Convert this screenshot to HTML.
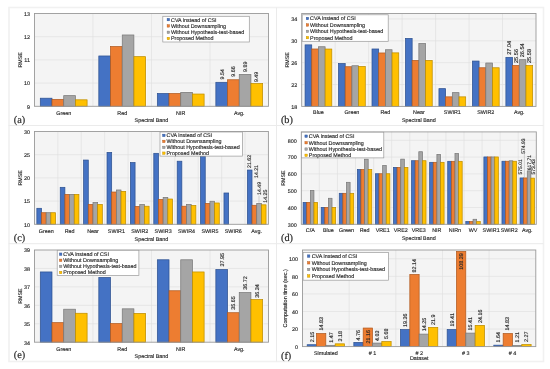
<!DOCTYPE html>
<html><head><meta charset="utf-8"><title>Figure</title>
<style>
html,body{margin:0;padding:0;background:#fff;width:550px;height:369px;overflow:hidden;}
body{position:relative;font-family:"Liberation Sans",sans-serif;}
svg{text-rendering:geometricPrecision;filter:blur(0.3px);}
svg text{font-family:"Liberation Sans",sans-serif;stroke:#262626;stroke-width:0.14px;}
svg text.tag{font-family:"Liberation Serif",serif;stroke:#2a2a2a;stroke-width:0.2px;}
</style></head><body>
<svg width="550" height="369" viewBox="0 0 550 369" style="position:absolute;left:0;top:0">
<rect x="9" y="7.5" width="534.5" height="354" fill="none" stroke="#f1f1f1" stroke-width="1.6"/>
<line x1="276.5" y1="7.5" x2="276.5" y2="361.5" stroke="#ebebeb" stroke-width="1"/>
<line x1="8.5" y1="125.5" x2="543.5" y2="125.5" stroke="#ebebeb" stroke-width="1"/>
<line x1="8.5" y1="243.7" x2="543.5" y2="243.7" stroke="#ebebeb" stroke-width="1"/>
<rect x="34.45" y="13.50" width="234.05" height="92.80" fill="#f4f4f4"/>
<line x1="34.45" y1="83.10" x2="268.50" y2="83.10" stroke="#dedede" stroke-width="0.6"/>
<line x1="34.45" y1="59.90" x2="268.50" y2="59.90" stroke="#dedede" stroke-width="0.6"/>
<line x1="34.45" y1="36.70" x2="268.50" y2="36.70" stroke="#dedede" stroke-width="0.6"/>
<line x1="92.96" y1="13.50" x2="92.96" y2="106.30" stroke="#dedede" stroke-width="0.6"/>
<line x1="151.48" y1="13.50" x2="151.48" y2="106.30" stroke="#dedede" stroke-width="0.6"/>
<line x1="209.99" y1="13.50" x2="209.99" y2="106.30" stroke="#dedede" stroke-width="0.6"/>
<rect x="39.40" y="97.28" width="13.50" height="9.02" fill="#ffffff" opacity="0.75"/>
<rect x="51.10" y="98.44" width="13.50" height="7.86" fill="#ffffff" opacity="0.75"/>
<rect x="62.81" y="94.73" width="13.50" height="11.57" fill="#ffffff" opacity="0.75"/>
<rect x="74.51" y="98.90" width="13.50" height="7.40" fill="#ffffff" opacity="0.75"/>
<rect x="97.91" y="55.06" width="13.50" height="51.24" fill="#ffffff" opacity="0.75"/>
<rect x="109.62" y="45.66" width="13.50" height="60.64" fill="#ffffff" opacity="0.75"/>
<rect x="121.32" y="34.06" width="13.50" height="72.24" fill="#ffffff" opacity="0.75"/>
<rect x="133.02" y="55.75" width="13.50" height="50.55" fill="#ffffff" opacity="0.75"/>
<rect x="156.43" y="92.64" width="13.50" height="13.66" fill="#ffffff" opacity="0.75"/>
<rect x="168.13" y="92.64" width="13.50" height="13.66" fill="#ffffff" opacity="0.75"/>
<rect x="179.83" y="91.48" width="13.50" height="14.82" fill="#ffffff" opacity="0.75"/>
<rect x="191.53" y="93.10" width="13.50" height="13.20" fill="#ffffff" opacity="0.75"/>
<rect x="214.94" y="81.39" width="13.50" height="24.91" fill="#ffffff" opacity="0.75"/>
<rect x="226.64" y="78.84" width="13.50" height="27.46" fill="#ffffff" opacity="0.75"/>
<rect x="238.34" y="73.50" width="13.50" height="32.80" fill="#ffffff" opacity="0.75"/>
<rect x="250.05" y="82.55" width="13.50" height="23.75" fill="#ffffff" opacity="0.75"/>
<rect x="40.30" y="98.18" width="11.70" height="8.12" fill="#4472C4" stroke="#2F528F" stroke-width="0.75"/>
<rect x="52.00" y="99.34" width="11.70" height="6.96" fill="#ED7D31" stroke="#AE5A21" stroke-width="0.75"/>
<rect x="63.71" y="95.63" width="11.70" height="10.67" fill="#A5A5A5" stroke="#787878" stroke-width="0.75"/>
<rect x="75.41" y="99.80" width="11.70" height="6.50" fill="#FFC000" stroke="#BC8C00" stroke-width="0.75"/>
<rect x="98.81" y="55.96" width="11.70" height="50.34" fill="#4472C4" stroke="#2F528F" stroke-width="0.75"/>
<rect x="110.52" y="46.56" width="11.70" height="59.74" fill="#ED7D31" stroke="#AE5A21" stroke-width="0.75"/>
<rect x="122.22" y="34.96" width="11.70" height="71.34" fill="#A5A5A5" stroke="#787878" stroke-width="0.75"/>
<rect x="133.92" y="56.65" width="11.70" height="49.65" fill="#FFC000" stroke="#BC8C00" stroke-width="0.75"/>
<rect x="157.33" y="93.54" width="11.70" height="12.76" fill="#4472C4" stroke="#2F528F" stroke-width="0.75"/>
<rect x="169.03" y="93.54" width="11.70" height="12.76" fill="#ED7D31" stroke="#AE5A21" stroke-width="0.75"/>
<rect x="180.73" y="92.38" width="11.70" height="13.92" fill="#A5A5A5" stroke="#787878" stroke-width="0.75"/>
<rect x="192.43" y="94.00" width="11.70" height="12.30" fill="#FFC000" stroke="#BC8C00" stroke-width="0.75"/>
<rect x="215.84" y="82.29" width="11.70" height="24.01" fill="#4472C4" stroke="#2F528F" stroke-width="0.75"/>
<rect x="227.54" y="79.74" width="11.70" height="26.56" fill="#ED7D31" stroke="#AE5A21" stroke-width="0.75"/>
<rect x="239.24" y="74.40" width="11.70" height="31.90" fill="#A5A5A5" stroke="#787878" stroke-width="0.75"/>
<rect x="250.95" y="83.45" width="11.70" height="22.85" fill="#FFC000" stroke="#BC8C00" stroke-width="0.75"/>
<rect x="34.45" y="13.50" width="234.05" height="92.80" fill="none" stroke="#9a9a9a" stroke-width="0.9"/>
<text x="29.95" y="108.60" font-size="5.38" text-anchor="end" fill="#262626">9</text>
<text x="29.95" y="85.40" font-size="5.38" text-anchor="end" fill="#262626">10</text>
<text x="29.95" y="62.20" font-size="5.38" text-anchor="end" fill="#262626">11</text>
<text x="29.95" y="39.00" font-size="5.38" text-anchor="end" fill="#262626">12</text>
<text x="29.95" y="15.80" font-size="5.38" text-anchor="end" fill="#262626">13</text>
<text x="63.71" y="114.50" font-size="5.38" text-anchor="middle" fill="#262626">Green</text>
<text x="122.22" y="114.50" font-size="5.38" text-anchor="middle" fill="#262626">Red</text>
<text x="180.73" y="114.50" font-size="5.38" text-anchor="middle" fill="#262626">NIR</text>
<text x="239.24" y="114.50" font-size="5.38" text-anchor="middle" fill="#262626">Avg.</text>
<text x="151.47" y="121.60" font-size="5.38" text-anchor="middle" fill="#262626">Spectral Band</text>
<text transform="translate(21.80,59.90) rotate(-90)" font-size="5.30" text-anchor="middle" fill="#262626">RMSE</text>
<text transform="translate(223.51,79.40) rotate(-90)" font-size="5.3" fill="#262626">9.54</text>
<text transform="translate(235.01,76.70) rotate(-90)" font-size="5.3" fill="#262626">9.66</text>
<text transform="translate(246.61,71.90) rotate(-90)" font-size="5.3" fill="#262626">9.89</text>
<text transform="translate(258.41,82.10) rotate(-90)" font-size="5.3" fill="#262626">9.49</text>
<rect x="162.80" y="16.30" width="86.50" height="25.70" fill="#ffffff" stroke="#9a9a9a" stroke-width="0.7"/>
<rect x="167.10" y="18.35" width="2.5" height="2.5" fill="#4472C4" stroke="#2F528F" stroke-width="0.4"/>
<text x="171.00" y="21.50" font-size="5.38" fill="#262626">CVA instead of CSI</text>
<rect x="167.10" y="24.65" width="2.5" height="2.5" fill="#ED7D31" stroke="#AE5A21" stroke-width="0.4"/>
<text x="171.00" y="27.80" font-size="5.38" fill="#262626">Without Downsampling</text>
<rect x="167.10" y="31.05" width="2.5" height="2.5" fill="#A5A5A5" stroke="#787878" stroke-width="0.4"/>
<text x="171.00" y="34.20" font-size="5.38" fill="#262626">Without Hypothesis-test-based</text>
<rect x="167.10" y="37.25" width="2.5" height="2.5" fill="#FFC000" stroke="#BC8C00" stroke-width="0.4"/>
<text x="171.00" y="40.40" font-size="5.38" fill="#262626">Proposed Method</text>
<text x="13.80" y="122.90" class="tag" font-size="10.3" fill="#2a2a2a">(a)</text>
<rect x="301.70" y="13.50" width="234.30" height="92.90" fill="#f4f4f4"/>
<line x1="301.70" y1="84.54" x2="536.00" y2="84.54" stroke="#dedede" stroke-width="0.6"/>
<line x1="301.70" y1="62.68" x2="536.00" y2="62.68" stroke="#dedede" stroke-width="0.6"/>
<line x1="301.70" y1="40.82" x2="536.00" y2="40.82" stroke="#dedede" stroke-width="0.6"/>
<line x1="301.70" y1="18.96" x2="536.00" y2="18.96" stroke="#dedede" stroke-width="0.6"/>
<line x1="335.17" y1="13.50" x2="335.17" y2="106.40" stroke="#dedede" stroke-width="0.6"/>
<line x1="368.64" y1="13.50" x2="368.64" y2="106.40" stroke="#dedede" stroke-width="0.6"/>
<line x1="402.11" y1="13.50" x2="402.11" y2="106.40" stroke="#dedede" stroke-width="0.6"/>
<line x1="435.59" y1="13.50" x2="435.59" y2="106.40" stroke="#dedede" stroke-width="0.6"/>
<line x1="469.06" y1="13.50" x2="469.06" y2="106.40" stroke="#dedede" stroke-width="0.6"/>
<line x1="502.53" y1="13.50" x2="502.53" y2="106.40" stroke="#dedede" stroke-width="0.6"/>
<rect x="304.15" y="43.97" width="8.49" height="62.43" fill="#ffffff" opacity="0.75"/>
<rect x="310.84" y="48.07" width="8.49" height="58.33" fill="#ffffff" opacity="0.75"/>
<rect x="317.54" y="45.83" width="8.49" height="60.57" fill="#ffffff" opacity="0.75"/>
<rect x="324.23" y="48.12" width="8.49" height="58.28" fill="#ffffff" opacity="0.75"/>
<rect x="337.62" y="62.66" width="8.49" height="43.74" fill="#ffffff" opacity="0.75"/>
<rect x="344.31" y="65.83" width="8.49" height="40.57" fill="#ffffff" opacity="0.75"/>
<rect x="351.01" y="64.84" width="8.49" height="41.56" fill="#ffffff" opacity="0.75"/>
<rect x="357.70" y="65.55" width="8.49" height="40.85" fill="#ffffff" opacity="0.75"/>
<rect x="371.09" y="48.07" width="8.49" height="58.33" fill="#ffffff" opacity="0.75"/>
<rect x="377.78" y="52.06" width="8.49" height="54.34" fill="#ffffff" opacity="0.75"/>
<rect x="384.48" y="48.83" width="8.49" height="57.57" fill="#ffffff" opacity="0.75"/>
<rect x="391.17" y="51.95" width="8.49" height="54.45" fill="#ffffff" opacity="0.75"/>
<rect x="404.56" y="37.52" width="8.49" height="68.88" fill="#ffffff" opacity="0.75"/>
<rect x="411.26" y="59.54" width="8.49" height="46.86" fill="#ffffff" opacity="0.75"/>
<rect x="417.95" y="42.66" width="8.49" height="63.74" fill="#ffffff" opacity="0.75"/>
<rect x="424.64" y="59.54" width="8.49" height="46.86" fill="#ffffff" opacity="0.75"/>
<rect x="438.03" y="87.74" width="8.49" height="18.66" fill="#ffffff" opacity="0.75"/>
<rect x="444.73" y="95.94" width="8.49" height="10.46" fill="#ffffff" opacity="0.75"/>
<rect x="451.42" y="91.73" width="8.49" height="14.67" fill="#ffffff" opacity="0.75"/>
<rect x="458.12" y="95.94" width="8.49" height="10.46" fill="#ffffff" opacity="0.75"/>
<rect x="471.50" y="60.14" width="8.49" height="46.26" fill="#ffffff" opacity="0.75"/>
<rect x="478.20" y="66.86" width="8.49" height="39.54" fill="#ffffff" opacity="0.75"/>
<rect x="484.89" y="62.06" width="8.49" height="44.34" fill="#ffffff" opacity="0.75"/>
<rect x="491.59" y="66.86" width="8.49" height="39.54" fill="#ffffff" opacity="0.75"/>
<rect x="504.98" y="56.43" width="8.49" height="49.97" fill="#ffffff" opacity="0.75"/>
<rect x="511.67" y="64.62" width="8.49" height="41.78" fill="#ffffff" opacity="0.75"/>
<rect x="518.36" y="58.78" width="8.49" height="47.62" fill="#ffffff" opacity="0.75"/>
<rect x="525.06" y="64.68" width="8.49" height="41.72" fill="#ffffff" opacity="0.75"/>
<rect x="305.05" y="44.87" width="6.69" height="61.53" fill="#4472C4" stroke="#2F528F" stroke-width="0.75"/>
<rect x="311.74" y="48.97" width="6.69" height="57.43" fill="#ED7D31" stroke="#AE5A21" stroke-width="0.75"/>
<rect x="318.44" y="46.73" width="6.69" height="59.67" fill="#A5A5A5" stroke="#787878" stroke-width="0.75"/>
<rect x="325.13" y="49.02" width="6.69" height="57.38" fill="#FFC000" stroke="#BC8C00" stroke-width="0.75"/>
<rect x="338.52" y="63.56" width="6.69" height="42.84" fill="#4472C4" stroke="#2F528F" stroke-width="0.75"/>
<rect x="345.21" y="66.73" width="6.69" height="39.67" fill="#ED7D31" stroke="#AE5A21" stroke-width="0.75"/>
<rect x="351.91" y="65.74" width="6.69" height="40.66" fill="#A5A5A5" stroke="#787878" stroke-width="0.75"/>
<rect x="358.60" y="66.45" width="6.69" height="39.95" fill="#FFC000" stroke="#BC8C00" stroke-width="0.75"/>
<rect x="371.99" y="48.97" width="6.69" height="57.43" fill="#4472C4" stroke="#2F528F" stroke-width="0.75"/>
<rect x="378.68" y="52.96" width="6.69" height="53.44" fill="#ED7D31" stroke="#AE5A21" stroke-width="0.75"/>
<rect x="385.38" y="49.73" width="6.69" height="56.67" fill="#A5A5A5" stroke="#787878" stroke-width="0.75"/>
<rect x="392.07" y="52.85" width="6.69" height="53.55" fill="#FFC000" stroke="#BC8C00" stroke-width="0.75"/>
<rect x="405.46" y="38.42" width="6.69" height="67.98" fill="#4472C4" stroke="#2F528F" stroke-width="0.75"/>
<rect x="412.16" y="60.44" width="6.69" height="45.96" fill="#ED7D31" stroke="#AE5A21" stroke-width="0.75"/>
<rect x="418.85" y="43.56" width="6.69" height="62.84" fill="#A5A5A5" stroke="#787878" stroke-width="0.75"/>
<rect x="425.54" y="60.44" width="6.69" height="45.96" fill="#FFC000" stroke="#BC8C00" stroke-width="0.75"/>
<rect x="438.93" y="88.64" width="6.69" height="17.76" fill="#4472C4" stroke="#2F528F" stroke-width="0.75"/>
<rect x="445.63" y="96.84" width="6.69" height="9.56" fill="#ED7D31" stroke="#AE5A21" stroke-width="0.75"/>
<rect x="452.32" y="92.63" width="6.69" height="13.77" fill="#A5A5A5" stroke="#787878" stroke-width="0.75"/>
<rect x="459.02" y="96.84" width="6.69" height="9.56" fill="#FFC000" stroke="#BC8C00" stroke-width="0.75"/>
<rect x="472.40" y="61.04" width="6.69" height="45.36" fill="#4472C4" stroke="#2F528F" stroke-width="0.75"/>
<rect x="479.10" y="67.76" width="6.69" height="38.64" fill="#ED7D31" stroke="#AE5A21" stroke-width="0.75"/>
<rect x="485.79" y="62.96" width="6.69" height="43.44" fill="#A5A5A5" stroke="#787878" stroke-width="0.75"/>
<rect x="492.49" y="67.76" width="6.69" height="38.64" fill="#FFC000" stroke="#BC8C00" stroke-width="0.75"/>
<rect x="505.88" y="57.33" width="6.69" height="49.07" fill="#4472C4" stroke="#2F528F" stroke-width="0.75"/>
<rect x="512.57" y="65.52" width="6.69" height="40.88" fill="#ED7D31" stroke="#AE5A21" stroke-width="0.75"/>
<rect x="519.26" y="59.68" width="6.69" height="46.72" fill="#A5A5A5" stroke="#787878" stroke-width="0.75"/>
<rect x="525.96" y="65.58" width="6.69" height="40.82" fill="#FFC000" stroke="#BC8C00" stroke-width="0.75"/>
<rect x="301.70" y="13.50" width="234.30" height="92.90" fill="none" stroke="#9a9a9a" stroke-width="0.9"/>
<text x="297.20" y="108.70" font-size="5.38" text-anchor="end" fill="#262626">18</text>
<text x="297.20" y="86.84" font-size="5.38" text-anchor="end" fill="#262626">22</text>
<text x="297.20" y="64.98" font-size="5.38" text-anchor="end" fill="#262626">26</text>
<text x="297.20" y="43.12" font-size="5.38" text-anchor="end" fill="#262626">30</text>
<text x="297.20" y="21.26" font-size="5.38" text-anchor="end" fill="#262626">34</text>
<text x="318.44" y="114.20" font-size="5.38" text-anchor="middle" fill="#262626">Blue</text>
<text x="351.91" y="114.20" font-size="5.38" text-anchor="middle" fill="#262626">Green</text>
<text x="385.38" y="114.20" font-size="5.38" text-anchor="middle" fill="#262626">Red</text>
<text x="418.85" y="114.20" font-size="5.38" text-anchor="middle" fill="#262626">Near</text>
<text x="452.32" y="114.20" font-size="5.38" text-anchor="middle" fill="#262626">SWIR1</text>
<text x="485.79" y="114.20" font-size="5.38" text-anchor="middle" fill="#262626">SWIR2</text>
<text x="519.26" y="114.20" font-size="5.38" text-anchor="middle" fill="#262626">Avg.</text>
<text x="418.85" y="121.70" font-size="5.38" text-anchor="middle" fill="#262626">Spectral Band</text>
<text transform="translate(289.00,59.95) rotate(-90)" font-size="5.30" text-anchor="middle" fill="#262626">RMSE</text>
<text transform="translate(511.12,54.80) rotate(-90)" font-size="5.6" fill="#262626">27.04</text>
<text transform="translate(517.92,63.00) rotate(-90)" font-size="5.6" fill="#262626">25.56</text>
<text transform="translate(524.12,57.30) rotate(-90)" font-size="5.6" fill="#262626">26.54</text>
<text transform="translate(531.02,63.00) rotate(-90)" font-size="5.6" fill="#262626">25.58</text>
<rect x="302.20" y="14.80" width="86.00" height="26.50" fill="#ffffff" stroke="#9a9a9a" stroke-width="0.7"/>
<rect x="306.20" y="17.25" width="2.5" height="2.5" fill="#4472C4" stroke="#2F528F" stroke-width="0.4"/>
<text x="310.10" y="20.40" font-size="5.38" fill="#262626">CVA instead of CSI</text>
<rect x="306.20" y="23.75" width="2.5" height="2.5" fill="#ED7D31" stroke="#AE5A21" stroke-width="0.4"/>
<text x="310.10" y="26.90" font-size="5.38" fill="#262626">Without Downsampling</text>
<rect x="306.20" y="30.15" width="2.5" height="2.5" fill="#A5A5A5" stroke="#787878" stroke-width="0.4"/>
<text x="310.10" y="33.30" font-size="5.38" fill="#262626">Without Hypothesis-test-based</text>
<rect x="306.20" y="36.35" width="2.5" height="2.5" fill="#FFC000" stroke="#BC8C00" stroke-width="0.4"/>
<text x="310.10" y="39.50" font-size="5.38" fill="#262626">Proposed Method</text>
<text x="280.90" y="123.00" class="tag" font-size="10.3" fill="#2a2a2a">(b)</text>
<rect x="34.50" y="131.50" width="233.90" height="92.80" fill="#f4f4f4"/>
<line x1="34.50" y1="201.10" x2="268.40" y2="201.10" stroke="#dedede" stroke-width="0.6"/>
<line x1="34.50" y1="177.90" x2="268.40" y2="177.90" stroke="#dedede" stroke-width="0.6"/>
<line x1="34.50" y1="154.70" x2="268.40" y2="154.70" stroke="#dedede" stroke-width="0.6"/>
<line x1="57.89" y1="131.50" x2="57.89" y2="224.30" stroke="#dedede" stroke-width="0.6"/>
<line x1="81.28" y1="131.50" x2="81.28" y2="224.30" stroke="#dedede" stroke-width="0.6"/>
<line x1="104.67" y1="131.50" x2="104.67" y2="224.30" stroke="#dedede" stroke-width="0.6"/>
<line x1="128.06" y1="131.50" x2="128.06" y2="224.30" stroke="#dedede" stroke-width="0.6"/>
<line x1="151.45" y1="131.50" x2="151.45" y2="224.30" stroke="#dedede" stroke-width="0.6"/>
<line x1="174.84" y1="131.50" x2="174.84" y2="224.30" stroke="#dedede" stroke-width="0.6"/>
<line x1="198.23" y1="131.50" x2="198.23" y2="224.30" stroke="#dedede" stroke-width="0.6"/>
<line x1="221.62" y1="131.50" x2="221.62" y2="224.30" stroke="#dedede" stroke-width="0.6"/>
<line x1="245.01" y1="131.50" x2="245.01" y2="224.30" stroke="#dedede" stroke-width="0.6"/>
<rect x="35.94" y="207.39" width="6.48" height="16.91" fill="#ffffff" opacity="0.75"/>
<rect x="40.62" y="211.80" width="6.48" height="12.50" fill="#ffffff" opacity="0.75"/>
<rect x="45.29" y="211.80" width="6.48" height="12.50" fill="#ffffff" opacity="0.75"/>
<rect x="49.97" y="211.80" width="6.48" height="12.50" fill="#ffffff" opacity="0.75"/>
<rect x="59.33" y="186.42" width="6.48" height="37.88" fill="#ffffff" opacity="0.75"/>
<rect x="64.01" y="193.47" width="6.48" height="30.83" fill="#ffffff" opacity="0.75"/>
<rect x="68.68" y="193.47" width="6.48" height="30.83" fill="#ffffff" opacity="0.75"/>
<rect x="73.36" y="193.47" width="6.48" height="30.83" fill="#ffffff" opacity="0.75"/>
<rect x="82.72" y="159.14" width="6.48" height="65.16" fill="#ffffff" opacity="0.75"/>
<rect x="87.40" y="203.59" width="6.48" height="20.71" fill="#ffffff" opacity="0.75"/>
<rect x="92.07" y="201.59" width="6.48" height="22.71" fill="#ffffff" opacity="0.75"/>
<rect x="96.75" y="203.59" width="6.48" height="20.71" fill="#ffffff" opacity="0.75"/>
<rect x="106.11" y="151.48" width="6.48" height="72.82" fill="#ffffff" opacity="0.75"/>
<rect x="110.79" y="191.11" width="6.48" height="33.19" fill="#ffffff" opacity="0.75"/>
<rect x="115.46" y="189.06" width="6.48" height="35.24" fill="#ffffff" opacity="0.75"/>
<rect x="120.14" y="190.46" width="6.48" height="33.84" fill="#ffffff" opacity="0.75"/>
<rect x="129.50" y="161.69" width="6.48" height="62.61" fill="#ffffff" opacity="0.75"/>
<rect x="134.18" y="205.54" width="6.48" height="18.76" fill="#ffffff" opacity="0.75"/>
<rect x="138.85" y="203.68" width="6.48" height="20.62" fill="#ffffff" opacity="0.75"/>
<rect x="143.53" y="205.30" width="6.48" height="19.00" fill="#ffffff" opacity="0.75"/>
<rect x="152.89" y="152.41" width="6.48" height="71.89" fill="#ffffff" opacity="0.75"/>
<rect x="157.57" y="198.58" width="6.48" height="25.72" fill="#ffffff" opacity="0.75"/>
<rect x="162.24" y="196.49" width="6.48" height="27.81" fill="#ffffff" opacity="0.75"/>
<rect x="166.92" y="198.11" width="6.48" height="26.19" fill="#ffffff" opacity="0.75"/>
<rect x="176.28" y="160.30" width="6.48" height="64.00" fill="#ffffff" opacity="0.75"/>
<rect x="180.96" y="205.30" width="6.48" height="19.00" fill="#ffffff" opacity="0.75"/>
<rect x="185.63" y="203.45" width="6.48" height="20.85" fill="#ffffff" opacity="0.75"/>
<rect x="190.31" y="204.61" width="6.48" height="19.69" fill="#ffffff" opacity="0.75"/>
<rect x="199.67" y="155.66" width="6.48" height="68.64" fill="#ffffff" opacity="0.75"/>
<rect x="204.35" y="202.52" width="6.48" height="21.78" fill="#ffffff" opacity="0.75"/>
<rect x="209.02" y="200.34" width="6.48" height="23.96" fill="#ffffff" opacity="0.75"/>
<rect x="213.70" y="202.06" width="6.48" height="22.24" fill="#ffffff" opacity="0.75"/>
<rect x="223.06" y="192.08" width="6.48" height="32.22" fill="#ffffff" opacity="0.75"/>
<rect x="246.45" y="169.11" width="6.48" height="55.19" fill="#ffffff" opacity="0.75"/>
<rect x="251.13" y="204.38" width="6.48" height="19.92" fill="#ffffff" opacity="0.75"/>
<rect x="255.80" y="202.52" width="6.48" height="21.78" fill="#ffffff" opacity="0.75"/>
<rect x="260.48" y="203.91" width="6.48" height="20.39" fill="#ffffff" opacity="0.75"/>
<rect x="36.84" y="208.29" width="4.68" height="16.01" fill="#4472C4" stroke="#2F528F" stroke-width="0.75"/>
<rect x="41.52" y="212.70" width="4.68" height="11.60" fill="#ED7D31" stroke="#AE5A21" stroke-width="0.75"/>
<rect x="46.19" y="212.70" width="4.68" height="11.60" fill="#A5A5A5" stroke="#787878" stroke-width="0.75"/>
<rect x="50.87" y="212.70" width="4.68" height="11.60" fill="#FFC000" stroke="#BC8C00" stroke-width="0.75"/>
<rect x="60.23" y="187.32" width="4.68" height="36.98" fill="#4472C4" stroke="#2F528F" stroke-width="0.75"/>
<rect x="64.91" y="194.37" width="4.68" height="29.93" fill="#ED7D31" stroke="#AE5A21" stroke-width="0.75"/>
<rect x="69.58" y="194.37" width="4.68" height="29.93" fill="#A5A5A5" stroke="#787878" stroke-width="0.75"/>
<rect x="74.26" y="194.37" width="4.68" height="29.93" fill="#FFC000" stroke="#BC8C00" stroke-width="0.75"/>
<rect x="83.62" y="160.04" width="4.68" height="64.26" fill="#4472C4" stroke="#2F528F" stroke-width="0.75"/>
<rect x="88.30" y="204.49" width="4.68" height="19.81" fill="#ED7D31" stroke="#AE5A21" stroke-width="0.75"/>
<rect x="92.97" y="202.49" width="4.68" height="21.81" fill="#A5A5A5" stroke="#787878" stroke-width="0.75"/>
<rect x="97.65" y="204.49" width="4.68" height="19.81" fill="#FFC000" stroke="#BC8C00" stroke-width="0.75"/>
<rect x="107.01" y="152.38" width="4.68" height="71.92" fill="#4472C4" stroke="#2F528F" stroke-width="0.75"/>
<rect x="111.69" y="192.01" width="4.68" height="32.29" fill="#ED7D31" stroke="#AE5A21" stroke-width="0.75"/>
<rect x="116.36" y="189.96" width="4.68" height="34.34" fill="#A5A5A5" stroke="#787878" stroke-width="0.75"/>
<rect x="121.04" y="191.36" width="4.68" height="32.94" fill="#FFC000" stroke="#BC8C00" stroke-width="0.75"/>
<rect x="130.40" y="162.59" width="4.68" height="61.71" fill="#4472C4" stroke="#2F528F" stroke-width="0.75"/>
<rect x="135.08" y="206.44" width="4.68" height="17.86" fill="#ED7D31" stroke="#AE5A21" stroke-width="0.75"/>
<rect x="139.75" y="204.58" width="4.68" height="19.72" fill="#A5A5A5" stroke="#787878" stroke-width="0.75"/>
<rect x="144.43" y="206.20" width="4.68" height="18.10" fill="#FFC000" stroke="#BC8C00" stroke-width="0.75"/>
<rect x="153.79" y="153.31" width="4.68" height="70.99" fill="#4472C4" stroke="#2F528F" stroke-width="0.75"/>
<rect x="158.47" y="199.48" width="4.68" height="24.82" fill="#ED7D31" stroke="#AE5A21" stroke-width="0.75"/>
<rect x="163.14" y="197.39" width="4.68" height="26.91" fill="#A5A5A5" stroke="#787878" stroke-width="0.75"/>
<rect x="167.82" y="199.01" width="4.68" height="25.29" fill="#FFC000" stroke="#BC8C00" stroke-width="0.75"/>
<rect x="177.18" y="161.20" width="4.68" height="63.10" fill="#4472C4" stroke="#2F528F" stroke-width="0.75"/>
<rect x="181.86" y="206.20" width="4.68" height="18.10" fill="#ED7D31" stroke="#AE5A21" stroke-width="0.75"/>
<rect x="186.53" y="204.35" width="4.68" height="19.95" fill="#A5A5A5" stroke="#787878" stroke-width="0.75"/>
<rect x="191.21" y="205.51" width="4.68" height="18.79" fill="#FFC000" stroke="#BC8C00" stroke-width="0.75"/>
<rect x="200.57" y="156.56" width="4.68" height="67.74" fill="#4472C4" stroke="#2F528F" stroke-width="0.75"/>
<rect x="205.25" y="203.42" width="4.68" height="20.88" fill="#ED7D31" stroke="#AE5A21" stroke-width="0.75"/>
<rect x="209.92" y="201.24" width="4.68" height="23.06" fill="#A5A5A5" stroke="#787878" stroke-width="0.75"/>
<rect x="214.60" y="202.96" width="4.68" height="21.34" fill="#FFC000" stroke="#BC8C00" stroke-width="0.75"/>
<rect x="223.96" y="192.98" width="4.68" height="31.32" fill="#4472C4" stroke="#2F528F" stroke-width="0.75"/>
<rect x="247.35" y="170.01" width="4.68" height="54.29" fill="#4472C4" stroke="#2F528F" stroke-width="0.75"/>
<rect x="252.03" y="205.28" width="4.68" height="19.02" fill="#ED7D31" stroke="#AE5A21" stroke-width="0.75"/>
<rect x="256.70" y="203.42" width="4.68" height="20.88" fill="#A5A5A5" stroke="#787878" stroke-width="0.75"/>
<rect x="261.38" y="204.81" width="4.68" height="19.49" fill="#FFC000" stroke="#BC8C00" stroke-width="0.75"/>
<rect x="34.50" y="131.50" width="233.90" height="92.80" fill="none" stroke="#9a9a9a" stroke-width="0.9"/>
<text x="30.00" y="226.60" font-size="5.38" text-anchor="end" fill="#262626">10</text>
<text x="30.00" y="203.40" font-size="5.38" text-anchor="end" fill="#262626">15</text>
<text x="30.00" y="180.20" font-size="5.38" text-anchor="end" fill="#262626">20</text>
<text x="30.00" y="157.00" font-size="5.38" text-anchor="end" fill="#262626">25</text>
<text x="30.00" y="133.80" font-size="5.38" text-anchor="end" fill="#262626">30</text>
<text x="46.20" y="232.70" font-size="5.38" text-anchor="middle" fill="#262626">Green</text>
<text x="69.58" y="232.70" font-size="5.38" text-anchor="middle" fill="#262626">Red</text>
<text x="92.97" y="232.70" font-size="5.38" text-anchor="middle" fill="#262626">Near</text>
<text x="116.36" y="232.70" font-size="5.38" text-anchor="middle" fill="#262626">SWIR1</text>
<text x="139.75" y="232.70" font-size="5.38" text-anchor="middle" fill="#262626">SWIR2</text>
<text x="163.14" y="232.70" font-size="5.38" text-anchor="middle" fill="#262626">SWIR3</text>
<text x="186.53" y="232.70" font-size="5.38" text-anchor="middle" fill="#262626">SWIR4</text>
<text x="209.92" y="232.70" font-size="5.38" text-anchor="middle" fill="#262626">SWIR5</text>
<text x="233.31" y="232.70" font-size="5.38" text-anchor="middle" fill="#262626">SWIR6</text>
<text x="256.70" y="232.70" font-size="5.38" text-anchor="middle" fill="#262626">Avg.</text>
<text x="151.45" y="241.10" font-size="5.38" text-anchor="middle" fill="#262626">Spectral Band</text>
<text transform="translate(21.80,177.90) rotate(-90)" font-size="5.30" text-anchor="middle" fill="#262626">RMSE</text>
<line x1="259.0" y1="195.6" x2="259.0" y2="203.0" stroke="#9a9a9a" stroke-width="0.4"/>
<text transform="translate(251.47,167.90) rotate(-90)" font-size="5.2" fill="#262626">21.62</text>
<text transform="translate(257.67,178.00) rotate(-90)" font-size="5.2" fill="#262626">14.21</text>
<text transform="translate(260.87,194.90) rotate(-90)" font-size="5.2" fill="#262626">14.49</text>
<text transform="translate(266.67,202.70) rotate(-90)" font-size="5.2" fill="#262626">14.25</text>
<rect x="160.00" y="132.00" width="82.40" height="24.10" fill="#ffffff" stroke="#9a9a9a" stroke-width="0.7"/>
<rect x="162.60" y="134.15" width="2.5" height="2.5" fill="#4472C4" stroke="#2F528F" stroke-width="0.4"/>
<text x="166.50" y="137.30" font-size="5.38" fill="#262626">CVA instead of CSI</text>
<rect x="162.60" y="140.15" width="2.5" height="2.5" fill="#ED7D31" stroke="#AE5A21" stroke-width="0.4"/>
<text x="166.50" y="143.30" font-size="5.38" fill="#262626">Without Downsampling</text>
<rect x="162.60" y="146.15" width="2.5" height="2.5" fill="#A5A5A5" stroke="#787878" stroke-width="0.4"/>
<text x="166.50" y="149.30" font-size="5.38" fill="#262626">Without Hypothesis-test-based</text>
<rect x="162.60" y="151.95" width="2.5" height="2.5" fill="#FFC000" stroke="#BC8C00" stroke-width="0.4"/>
<text x="166.50" y="155.10" font-size="5.38" fill="#262626">Proposed Method</text>
<text x="13.80" y="240.90" class="tag" font-size="10.3" fill="#2a2a2a">(c)</text>
<rect x="301.30" y="131.90" width="235.00" height="92.40" fill="#f4f4f4"/>
<line x1="301.30" y1="207.50" x2="536.30" y2="207.50" stroke="#dedede" stroke-width="0.6"/>
<line x1="301.30" y1="190.70" x2="536.30" y2="190.70" stroke="#dedede" stroke-width="0.6"/>
<line x1="301.30" y1="173.90" x2="536.30" y2="173.90" stroke="#dedede" stroke-width="0.6"/>
<line x1="301.30" y1="157.10" x2="536.30" y2="157.10" stroke="#dedede" stroke-width="0.6"/>
<line x1="301.30" y1="140.30" x2="536.30" y2="140.30" stroke="#dedede" stroke-width="0.6"/>
<line x1="319.38" y1="131.90" x2="319.38" y2="224.30" stroke="#dedede" stroke-width="0.6"/>
<line x1="337.45" y1="131.90" x2="337.45" y2="224.30" stroke="#dedede" stroke-width="0.6"/>
<line x1="355.53" y1="131.90" x2="355.53" y2="224.30" stroke="#dedede" stroke-width="0.6"/>
<line x1="373.61" y1="131.90" x2="373.61" y2="224.30" stroke="#dedede" stroke-width="0.6"/>
<line x1="391.68" y1="131.90" x2="391.68" y2="224.30" stroke="#dedede" stroke-width="0.6"/>
<line x1="409.76" y1="131.90" x2="409.76" y2="224.30" stroke="#dedede" stroke-width="0.6"/>
<line x1="427.84" y1="131.90" x2="427.84" y2="224.30" stroke="#dedede" stroke-width="0.6"/>
<line x1="445.92" y1="131.90" x2="445.92" y2="224.30" stroke="#dedede" stroke-width="0.6"/>
<line x1="463.99" y1="131.90" x2="463.99" y2="224.30" stroke="#dedede" stroke-width="0.6"/>
<line x1="482.07" y1="131.90" x2="482.07" y2="224.30" stroke="#dedede" stroke-width="0.6"/>
<line x1="500.15" y1="131.90" x2="500.15" y2="224.30" stroke="#dedede" stroke-width="0.6"/>
<line x1="518.22" y1="131.90" x2="518.22" y2="224.30" stroke="#dedede" stroke-width="0.6"/>
<rect x="302.21" y="201.56" width="5.42" height="22.74" fill="#ffffff" opacity="0.75"/>
<rect x="305.82" y="201.56" width="5.42" height="22.74" fill="#ffffff" opacity="0.75"/>
<rect x="309.44" y="189.46" width="5.42" height="34.84" fill="#ffffff" opacity="0.75"/>
<rect x="313.05" y="201.56" width="5.42" height="22.74" fill="#ffffff" opacity="0.75"/>
<rect x="320.28" y="206.52" width="5.42" height="17.78" fill="#ffffff" opacity="0.75"/>
<rect x="323.90" y="206.52" width="5.42" height="17.78" fill="#ffffff" opacity="0.75"/>
<rect x="327.52" y="197.36" width="5.42" height="26.94" fill="#ffffff" opacity="0.75"/>
<rect x="331.13" y="206.52" width="5.42" height="17.78" fill="#ffffff" opacity="0.75"/>
<rect x="338.36" y="192.40" width="5.42" height="31.90" fill="#ffffff" opacity="0.75"/>
<rect x="341.98" y="192.40" width="5.42" height="31.90" fill="#ffffff" opacity="0.75"/>
<rect x="345.59" y="181.40" width="5.42" height="42.90" fill="#ffffff" opacity="0.75"/>
<rect x="349.21" y="192.40" width="5.42" height="31.90" fill="#ffffff" opacity="0.75"/>
<rect x="356.44" y="168.63" width="5.42" height="55.67" fill="#ffffff" opacity="0.75"/>
<rect x="360.05" y="168.63" width="5.42" height="55.67" fill="#ffffff" opacity="0.75"/>
<rect x="363.67" y="158.30" width="5.42" height="66.00" fill="#ffffff" opacity="0.75"/>
<rect x="367.28" y="168.63" width="5.42" height="55.67" fill="#ffffff" opacity="0.75"/>
<rect x="374.52" y="172.83" width="5.42" height="51.47" fill="#ffffff" opacity="0.75"/>
<rect x="378.13" y="172.83" width="5.42" height="51.47" fill="#ffffff" opacity="0.75"/>
<rect x="381.75" y="164.60" width="5.42" height="59.70" fill="#ffffff" opacity="0.75"/>
<rect x="385.36" y="172.83" width="5.42" height="51.47" fill="#ffffff" opacity="0.75"/>
<rect x="392.59" y="166.53" width="5.42" height="57.77" fill="#ffffff" opacity="0.75"/>
<rect x="396.21" y="166.53" width="5.42" height="57.77" fill="#ffffff" opacity="0.75"/>
<rect x="399.82" y="158.22" width="5.42" height="66.08" fill="#ffffff" opacity="0.75"/>
<rect x="403.44" y="166.53" width="5.42" height="57.77" fill="#ffffff" opacity="0.75"/>
<rect x="410.67" y="159.81" width="5.42" height="64.49" fill="#ffffff" opacity="0.75"/>
<rect x="414.28" y="159.81" width="5.42" height="64.49" fill="#ffffff" opacity="0.75"/>
<rect x="417.90" y="150.82" width="5.42" height="73.48" fill="#ffffff" opacity="0.75"/>
<rect x="421.52" y="159.81" width="5.42" height="64.49" fill="#ffffff" opacity="0.75"/>
<rect x="428.75" y="161.41" width="5.42" height="62.89" fill="#ffffff" opacity="0.75"/>
<rect x="432.36" y="161.41" width="5.42" height="62.89" fill="#ffffff" opacity="0.75"/>
<rect x="435.98" y="153.51" width="5.42" height="70.79" fill="#ffffff" opacity="0.75"/>
<rect x="439.59" y="161.41" width="5.42" height="62.89" fill="#ffffff" opacity="0.75"/>
<rect x="446.82" y="160.40" width="5.42" height="63.90" fill="#ffffff" opacity="0.75"/>
<rect x="450.44" y="160.40" width="5.42" height="63.90" fill="#ffffff" opacity="0.75"/>
<rect x="454.05" y="152.67" width="5.42" height="71.63" fill="#ffffff" opacity="0.75"/>
<rect x="457.67" y="160.40" width="5.42" height="63.90" fill="#ffffff" opacity="0.75"/>
<rect x="464.90" y="220.71" width="5.42" height="3.59" fill="#ffffff" opacity="0.75"/>
<rect x="468.52" y="220.71" width="5.42" height="3.59" fill="#ffffff" opacity="0.75"/>
<rect x="472.13" y="218.36" width="5.42" height="5.94" fill="#ffffff" opacity="0.75"/>
<rect x="475.75" y="220.71" width="5.42" height="3.59" fill="#ffffff" opacity="0.75"/>
<rect x="482.98" y="156.03" width="5.42" height="68.27" fill="#ffffff" opacity="0.75"/>
<rect x="486.59" y="156.03" width="5.42" height="68.27" fill="#ffffff" opacity="0.75"/>
<rect x="490.21" y="156.03" width="5.42" height="68.27" fill="#ffffff" opacity="0.75"/>
<rect x="493.82" y="156.03" width="5.42" height="68.27" fill="#ffffff" opacity="0.75"/>
<rect x="501.05" y="160.32" width="5.42" height="63.98" fill="#ffffff" opacity="0.75"/>
<rect x="504.67" y="160.32" width="5.42" height="63.98" fill="#ffffff" opacity="0.75"/>
<rect x="508.28" y="159.90" width="5.42" height="64.40" fill="#ffffff" opacity="0.75"/>
<rect x="511.90" y="160.32" width="5.42" height="63.98" fill="#ffffff" opacity="0.75"/>
<rect x="519.13" y="177.03" width="5.42" height="47.27" fill="#ffffff" opacity="0.75"/>
<rect x="522.75" y="177.03" width="5.42" height="47.27" fill="#ffffff" opacity="0.75"/>
<rect x="526.36" y="169.98" width="5.42" height="54.32" fill="#ffffff" opacity="0.75"/>
<rect x="529.98" y="177.20" width="5.42" height="47.10" fill="#ffffff" opacity="0.75"/>
<rect x="303.11" y="202.46" width="3.62" height="21.84" fill="#4472C4" stroke="#2F528F" stroke-width="0.75"/>
<rect x="306.72" y="202.46" width="3.62" height="21.84" fill="#ED7D31" stroke="#AE5A21" stroke-width="0.75"/>
<rect x="310.34" y="190.36" width="3.62" height="33.94" fill="#A5A5A5" stroke="#787878" stroke-width="0.75"/>
<rect x="313.95" y="202.46" width="3.62" height="21.84" fill="#FFC000" stroke="#BC8C00" stroke-width="0.75"/>
<rect x="321.18" y="207.42" width="3.62" height="16.88" fill="#4472C4" stroke="#2F528F" stroke-width="0.75"/>
<rect x="324.80" y="207.42" width="3.62" height="16.88" fill="#ED7D31" stroke="#AE5A21" stroke-width="0.75"/>
<rect x="328.42" y="198.26" width="3.62" height="26.04" fill="#A5A5A5" stroke="#787878" stroke-width="0.75"/>
<rect x="332.03" y="207.42" width="3.62" height="16.88" fill="#FFC000" stroke="#BC8C00" stroke-width="0.75"/>
<rect x="339.26" y="193.30" width="3.62" height="31.00" fill="#4472C4" stroke="#2F528F" stroke-width="0.75"/>
<rect x="342.88" y="193.30" width="3.62" height="31.00" fill="#ED7D31" stroke="#AE5A21" stroke-width="0.75"/>
<rect x="346.49" y="182.30" width="3.62" height="42.00" fill="#A5A5A5" stroke="#787878" stroke-width="0.75"/>
<rect x="350.11" y="193.30" width="3.62" height="31.00" fill="#FFC000" stroke="#BC8C00" stroke-width="0.75"/>
<rect x="357.34" y="169.53" width="3.62" height="54.77" fill="#4472C4" stroke="#2F528F" stroke-width="0.75"/>
<rect x="360.95" y="169.53" width="3.62" height="54.77" fill="#ED7D31" stroke="#AE5A21" stroke-width="0.75"/>
<rect x="364.57" y="159.20" width="3.62" height="65.10" fill="#A5A5A5" stroke="#787878" stroke-width="0.75"/>
<rect x="368.18" y="169.53" width="3.62" height="54.77" fill="#FFC000" stroke="#BC8C00" stroke-width="0.75"/>
<rect x="375.42" y="173.73" width="3.62" height="50.57" fill="#4472C4" stroke="#2F528F" stroke-width="0.75"/>
<rect x="379.03" y="173.73" width="3.62" height="50.57" fill="#ED7D31" stroke="#AE5A21" stroke-width="0.75"/>
<rect x="382.65" y="165.50" width="3.62" height="58.80" fill="#A5A5A5" stroke="#787878" stroke-width="0.75"/>
<rect x="386.26" y="173.73" width="3.62" height="50.57" fill="#FFC000" stroke="#BC8C00" stroke-width="0.75"/>
<rect x="393.49" y="167.43" width="3.62" height="56.87" fill="#4472C4" stroke="#2F528F" stroke-width="0.75"/>
<rect x="397.11" y="167.43" width="3.62" height="56.87" fill="#ED7D31" stroke="#AE5A21" stroke-width="0.75"/>
<rect x="400.72" y="159.12" width="3.62" height="65.18" fill="#A5A5A5" stroke="#787878" stroke-width="0.75"/>
<rect x="404.34" y="167.43" width="3.62" height="56.87" fill="#FFC000" stroke="#BC8C00" stroke-width="0.75"/>
<rect x="411.57" y="160.71" width="3.62" height="63.59" fill="#4472C4" stroke="#2F528F" stroke-width="0.75"/>
<rect x="415.18" y="160.71" width="3.62" height="63.59" fill="#ED7D31" stroke="#AE5A21" stroke-width="0.75"/>
<rect x="418.80" y="151.72" width="3.62" height="72.58" fill="#A5A5A5" stroke="#787878" stroke-width="0.75"/>
<rect x="422.42" y="160.71" width="3.62" height="63.59" fill="#FFC000" stroke="#BC8C00" stroke-width="0.75"/>
<rect x="429.65" y="162.31" width="3.62" height="61.99" fill="#4472C4" stroke="#2F528F" stroke-width="0.75"/>
<rect x="433.26" y="162.31" width="3.62" height="61.99" fill="#ED7D31" stroke="#AE5A21" stroke-width="0.75"/>
<rect x="436.88" y="154.41" width="3.62" height="69.89" fill="#A5A5A5" stroke="#787878" stroke-width="0.75"/>
<rect x="440.49" y="162.31" width="3.62" height="61.99" fill="#FFC000" stroke="#BC8C00" stroke-width="0.75"/>
<rect x="447.72" y="161.30" width="3.62" height="63.00" fill="#4472C4" stroke="#2F528F" stroke-width="0.75"/>
<rect x="451.34" y="161.30" width="3.62" height="63.00" fill="#ED7D31" stroke="#AE5A21" stroke-width="0.75"/>
<rect x="454.95" y="153.57" width="3.62" height="70.73" fill="#A5A5A5" stroke="#787878" stroke-width="0.75"/>
<rect x="458.57" y="161.30" width="3.62" height="63.00" fill="#FFC000" stroke="#BC8C00" stroke-width="0.75"/>
<rect x="465.80" y="221.61" width="3.62" height="2.69" fill="#4472C4" stroke="#2F528F" stroke-width="0.75"/>
<rect x="469.42" y="221.61" width="3.62" height="2.69" fill="#ED7D31" stroke="#AE5A21" stroke-width="0.75"/>
<rect x="473.03" y="219.26" width="3.62" height="5.04" fill="#A5A5A5" stroke="#787878" stroke-width="0.75"/>
<rect x="476.65" y="221.61" width="3.62" height="2.69" fill="#FFC000" stroke="#BC8C00" stroke-width="0.75"/>
<rect x="483.88" y="156.93" width="3.62" height="67.37" fill="#4472C4" stroke="#2F528F" stroke-width="0.75"/>
<rect x="487.49" y="156.93" width="3.62" height="67.37" fill="#ED7D31" stroke="#AE5A21" stroke-width="0.75"/>
<rect x="491.11" y="156.93" width="3.62" height="67.37" fill="#A5A5A5" stroke="#787878" stroke-width="0.75"/>
<rect x="494.72" y="156.93" width="3.62" height="67.37" fill="#FFC000" stroke="#BC8C00" stroke-width="0.75"/>
<rect x="501.95" y="161.22" width="3.62" height="63.08" fill="#4472C4" stroke="#2F528F" stroke-width="0.75"/>
<rect x="505.57" y="161.22" width="3.62" height="63.08" fill="#ED7D31" stroke="#AE5A21" stroke-width="0.75"/>
<rect x="509.18" y="160.80" width="3.62" height="63.50" fill="#A5A5A5" stroke="#787878" stroke-width="0.75"/>
<rect x="512.80" y="161.22" width="3.62" height="63.08" fill="#FFC000" stroke="#BC8C00" stroke-width="0.75"/>
<rect x="520.03" y="177.93" width="3.62" height="46.37" fill="#4472C4" stroke="#2F528F" stroke-width="0.75"/>
<rect x="523.65" y="177.93" width="3.62" height="46.37" fill="#ED7D31" stroke="#AE5A21" stroke-width="0.75"/>
<rect x="527.26" y="170.88" width="3.62" height="53.42" fill="#A5A5A5" stroke="#787878" stroke-width="0.75"/>
<rect x="530.88" y="178.10" width="3.62" height="46.20" fill="#FFC000" stroke="#BC8C00" stroke-width="0.75"/>
<rect x="301.30" y="131.90" width="235.00" height="92.40" fill="none" stroke="#9a9a9a" stroke-width="0.9"/>
<text x="296.80" y="226.60" font-size="5.38" text-anchor="end" fill="#262626">300</text>
<text x="296.80" y="209.80" font-size="5.38" text-anchor="end" fill="#262626">400</text>
<text x="296.80" y="193.00" font-size="5.38" text-anchor="end" fill="#262626">500</text>
<text x="296.80" y="176.20" font-size="5.38" text-anchor="end" fill="#262626">600</text>
<text x="296.80" y="159.40" font-size="5.38" text-anchor="end" fill="#262626">700</text>
<text x="296.80" y="142.60" font-size="5.38" text-anchor="end" fill="#262626">800</text>
<text x="310.34" y="232.30" font-size="5.38" text-anchor="middle" fill="#262626">C/A</text>
<text x="328.42" y="232.30" font-size="5.38" text-anchor="middle" fill="#262626">Blue</text>
<text x="346.49" y="232.30" font-size="5.38" text-anchor="middle" fill="#262626">Green</text>
<text x="364.57" y="232.30" font-size="5.38" text-anchor="middle" fill="#262626">Red</text>
<text x="382.65" y="232.30" font-size="5.38" text-anchor="middle" fill="#262626">VRE1</text>
<text x="400.72" y="232.30" font-size="5.38" text-anchor="middle" fill="#262626">VRE2</text>
<text x="418.80" y="232.30" font-size="5.38" text-anchor="middle" fill="#262626">VRE3</text>
<text x="436.88" y="232.30" font-size="5.38" text-anchor="middle" fill="#262626">NIR</text>
<text x="454.95" y="232.30" font-size="5.38" text-anchor="middle" fill="#262626">NIRn</text>
<text x="473.03" y="232.30" font-size="5.38" text-anchor="middle" fill="#262626">WV</text>
<text x="491.11" y="232.30" font-size="5.38" text-anchor="middle" fill="#262626">SWIR1</text>
<text x="509.18" y="232.30" font-size="5.38" text-anchor="middle" fill="#262626">SWIR2</text>
<text x="527.26" y="232.30" font-size="5.38" text-anchor="middle" fill="#262626">Avg.</text>
<text x="418.80" y="239.90" font-size="5.38" text-anchor="middle" fill="#262626">Spectral Band</text>
<text transform="translate(285.40,178.10) rotate(-90)" font-size="5.30" text-anchor="middle" fill="#262626">RMSE</text>
<line x1="524.4" y1="153.8" x2="524.4" y2="177.8" stroke="#9a9a9a" stroke-width="0.4"/>
<text transform="translate(522.40,174.60) rotate(-90)" font-size="5.0" fill="#262626">575.01</text>
<text transform="translate(525.40,153.80) rotate(-90)" font-size="5.0" fill="#262626">574.93</text>
<text transform="translate(531.40,170.20) rotate(-90)" font-size="5.0" fill="#262626">617.71</text>
<text transform="translate(535.40,174.60) rotate(-90)" font-size="5.0" fill="#262626">573.43</text>
<rect x="301.60" y="132.20" width="82.20" height="25.70" fill="#ffffff" stroke="#9a9a9a" stroke-width="0.7"/>
<rect x="304.90" y="134.95" width="2.5" height="2.5" fill="#4472C4" stroke="#2F528F" stroke-width="0.4"/>
<text x="308.80" y="138.10" font-size="5.38" fill="#262626">CVA instead of CSI</text>
<rect x="304.90" y="141.45" width="2.5" height="2.5" fill="#ED7D31" stroke="#AE5A21" stroke-width="0.4"/>
<text x="308.80" y="144.60" font-size="5.38" fill="#262626">Without Downsampling</text>
<rect x="304.90" y="147.85" width="2.5" height="2.5" fill="#A5A5A5" stroke="#787878" stroke-width="0.4"/>
<text x="308.80" y="151.00" font-size="5.38" fill="#262626">Without Hypothesis-test-based</text>
<rect x="304.90" y="154.05" width="2.5" height="2.5" fill="#FFC000" stroke="#BC8C00" stroke-width="0.4"/>
<text x="308.80" y="157.20" font-size="5.38" fill="#262626">Proposed Method</text>
<text x="281.00" y="240.90" class="tag" font-size="10.3" fill="#2a2a2a">(d)</text>
<rect x="34.45" y="250.00" width="234.05" height="92.20" fill="#f4f4f4"/>
<line x1="34.45" y1="323.76" x2="268.50" y2="323.76" stroke="#dedede" stroke-width="0.6"/>
<line x1="34.45" y1="305.32" x2="268.50" y2="305.32" stroke="#dedede" stroke-width="0.6"/>
<line x1="34.45" y1="286.88" x2="268.50" y2="286.88" stroke="#dedede" stroke-width="0.6"/>
<line x1="34.45" y1="268.44" x2="268.50" y2="268.44" stroke="#dedede" stroke-width="0.6"/>
<line x1="92.96" y1="250.00" x2="92.96" y2="342.20" stroke="#dedede" stroke-width="0.6"/>
<line x1="151.48" y1="250.00" x2="151.48" y2="342.20" stroke="#dedede" stroke-width="0.6"/>
<line x1="209.99" y1="250.00" x2="209.99" y2="342.20" stroke="#dedede" stroke-width="0.6"/>
<rect x="39.40" y="271.04" width="13.50" height="71.16" fill="#ffffff" opacity="0.75"/>
<rect x="51.10" y="321.75" width="13.50" height="20.45" fill="#ffffff" opacity="0.75"/>
<rect x="62.81" y="308.29" width="13.50" height="33.91" fill="#ffffff" opacity="0.75"/>
<rect x="74.51" y="312.35" width="13.50" height="29.85" fill="#ffffff" opacity="0.75"/>
<rect x="97.91" y="276.58" width="13.50" height="65.62" fill="#ffffff" opacity="0.75"/>
<rect x="109.62" y="322.68" width="13.50" height="19.52" fill="#ffffff" opacity="0.75"/>
<rect x="121.32" y="307.92" width="13.50" height="34.28" fill="#ffffff" opacity="0.75"/>
<rect x="133.02" y="312.53" width="13.50" height="29.67" fill="#ffffff" opacity="0.75"/>
<rect x="156.43" y="258.87" width="13.50" height="83.33" fill="#ffffff" opacity="0.75"/>
<rect x="168.13" y="289.85" width="13.50" height="52.35" fill="#ffffff" opacity="0.75"/>
<rect x="179.83" y="258.87" width="13.50" height="83.33" fill="#ffffff" opacity="0.75"/>
<rect x="191.53" y="271.04" width="13.50" height="71.16" fill="#ffffff" opacity="0.75"/>
<rect x="214.94" y="268.65" width="13.50" height="73.55" fill="#ffffff" opacity="0.75"/>
<rect x="226.64" y="311.80" width="13.50" height="30.40" fill="#ffffff" opacity="0.75"/>
<rect x="238.34" y="291.70" width="13.50" height="50.50" fill="#ffffff" opacity="0.75"/>
<rect x="250.05" y="298.70" width="13.50" height="43.50" fill="#ffffff" opacity="0.75"/>
<rect x="40.30" y="271.94" width="11.70" height="70.26" fill="#4472C4" stroke="#2F528F" stroke-width="0.75"/>
<rect x="52.00" y="322.65" width="11.70" height="19.55" fill="#ED7D31" stroke="#AE5A21" stroke-width="0.75"/>
<rect x="63.71" y="309.19" width="11.70" height="33.01" fill="#A5A5A5" stroke="#787878" stroke-width="0.75"/>
<rect x="75.41" y="313.25" width="11.70" height="28.95" fill="#FFC000" stroke="#BC8C00" stroke-width="0.75"/>
<rect x="98.81" y="277.48" width="11.70" height="64.72" fill="#4472C4" stroke="#2F528F" stroke-width="0.75"/>
<rect x="110.52" y="323.58" width="11.70" height="18.62" fill="#ED7D31" stroke="#AE5A21" stroke-width="0.75"/>
<rect x="122.22" y="308.82" width="11.70" height="33.38" fill="#A5A5A5" stroke="#787878" stroke-width="0.75"/>
<rect x="133.92" y="313.43" width="11.70" height="28.77" fill="#FFC000" stroke="#BC8C00" stroke-width="0.75"/>
<rect x="157.33" y="259.77" width="11.70" height="82.43" fill="#4472C4" stroke="#2F528F" stroke-width="0.75"/>
<rect x="169.03" y="290.75" width="11.70" height="51.45" fill="#ED7D31" stroke="#AE5A21" stroke-width="0.75"/>
<rect x="180.73" y="259.77" width="11.70" height="82.43" fill="#A5A5A5" stroke="#787878" stroke-width="0.75"/>
<rect x="192.43" y="271.94" width="11.70" height="70.26" fill="#FFC000" stroke="#BC8C00" stroke-width="0.75"/>
<rect x="215.84" y="269.55" width="11.70" height="72.65" fill="#4472C4" stroke="#2F528F" stroke-width="0.75"/>
<rect x="227.54" y="312.70" width="11.70" height="29.50" fill="#ED7D31" stroke="#AE5A21" stroke-width="0.75"/>
<rect x="239.24" y="292.60" width="11.70" height="49.60" fill="#A5A5A5" stroke="#787878" stroke-width="0.75"/>
<rect x="250.95" y="299.60" width="11.70" height="42.60" fill="#FFC000" stroke="#BC8C00" stroke-width="0.75"/>
<rect x="34.45" y="250.00" width="234.05" height="92.20" fill="none" stroke="#9a9a9a" stroke-width="0.9"/>
<text x="29.95" y="344.50" font-size="5.38" text-anchor="end" fill="#262626">34</text>
<text x="29.95" y="326.06" font-size="5.38" text-anchor="end" fill="#262626">35</text>
<text x="29.95" y="307.62" font-size="5.38" text-anchor="end" fill="#262626">36</text>
<text x="29.95" y="289.18" font-size="5.38" text-anchor="end" fill="#262626">37</text>
<text x="29.95" y="270.74" font-size="5.38" text-anchor="end" fill="#262626">38</text>
<text x="29.95" y="252.30" font-size="5.38" text-anchor="end" fill="#262626">39</text>
<text x="63.71" y="351.40" font-size="5.38" text-anchor="middle" fill="#262626">Green</text>
<text x="122.22" y="351.40" font-size="5.38" text-anchor="middle" fill="#262626">Red</text>
<text x="180.73" y="351.40" font-size="5.38" text-anchor="middle" fill="#262626">NIR</text>
<text x="239.24" y="351.40" font-size="5.38" text-anchor="middle" fill="#262626">Avg.</text>
<text x="151.47" y="358.20" font-size="5.38" text-anchor="middle" fill="#262626">Spectral Band</text>
<text transform="translate(21.80,296.10) rotate(-90)" font-size="5.30" text-anchor="middle" fill="#262626">RMSE</text>
<text transform="translate(223.74,266.40) rotate(-90)" font-size="5.4" fill="#262626">37.95</text>
<text transform="translate(235.34,309.70) rotate(-90)" font-size="5.4" fill="#262626">35.65</text>
<text transform="translate(246.94,289.80) rotate(-90)" font-size="5.4" fill="#262626">36.72</text>
<text transform="translate(258.54,297.70) rotate(-90)" font-size="5.4" fill="#262626">36.34</text>
<rect x="57.20" y="250.30" width="81.70" height="25.10" fill="#ffffff" stroke="#9a9a9a" stroke-width="0.7"/>
<rect x="59.40" y="252.95" width="2.5" height="2.5" fill="#4472C4" stroke="#2F528F" stroke-width="0.4"/>
<text x="63.30" y="256.10" font-size="5.38" fill="#262626">CVA instead of CSI</text>
<rect x="59.40" y="259.05" width="2.5" height="2.5" fill="#ED7D31" stroke="#AE5A21" stroke-width="0.4"/>
<text x="63.30" y="262.20" font-size="5.38" fill="#262626">Without Downsampling</text>
<rect x="59.40" y="265.15" width="2.5" height="2.5" fill="#A5A5A5" stroke="#787878" stroke-width="0.4"/>
<text x="63.30" y="268.30" font-size="5.38" fill="#262626">Without Hypothesis-test-based</text>
<rect x="59.40" y="271.25" width="2.5" height="2.5" fill="#FFC000" stroke="#BC8C00" stroke-width="0.4"/>
<text x="63.30" y="274.40" font-size="5.38" fill="#262626">Proposed Method</text>
<text x="13.80" y="358.40" class="tag" font-size="10.3" fill="#2a2a2a">(e)</text>
<rect x="302.50" y="250.00" width="233.30" height="96.60" fill="#f4f4f4"/>
<line x1="302.50" y1="329.04" x2="535.80" y2="329.04" stroke="#dedede" stroke-width="0.6"/>
<line x1="302.50" y1="311.47" x2="535.80" y2="311.47" stroke="#dedede" stroke-width="0.6"/>
<line x1="302.50" y1="293.91" x2="535.80" y2="293.91" stroke="#dedede" stroke-width="0.6"/>
<line x1="302.50" y1="276.35" x2="535.80" y2="276.35" stroke="#dedede" stroke-width="0.6"/>
<line x1="302.50" y1="258.78" x2="535.80" y2="258.78" stroke="#dedede" stroke-width="0.6"/>
<line x1="349.16" y1="250.00" x2="349.16" y2="346.60" stroke="#dedede" stroke-width="0.6"/>
<line x1="395.82" y1="250.00" x2="395.82" y2="346.60" stroke="#dedede" stroke-width="0.6"/>
<line x1="442.48" y1="250.00" x2="442.48" y2="346.60" stroke="#dedede" stroke-width="0.6"/>
<line x1="489.14" y1="250.00" x2="489.14" y2="346.60" stroke="#dedede" stroke-width="0.6"/>
<rect x="306.27" y="343.81" width="11.13" height="2.79" fill="#ffffff" opacity="0.75"/>
<rect x="315.60" y="332.68" width="11.13" height="13.92" fill="#ffffff" opacity="0.75"/>
<rect x="324.93" y="344.41" width="11.13" height="2.19" fill="#ffffff" opacity="0.75"/>
<rect x="334.26" y="342.91" width="11.13" height="3.69" fill="#ffffff" opacity="0.75"/>
<rect x="352.93" y="341.52" width="11.13" height="5.08" fill="#ffffff" opacity="0.75"/>
<rect x="362.26" y="327.12" width="11.13" height="19.48" fill="#ffffff" opacity="0.75"/>
<rect x="371.59" y="342.16" width="11.13" height="4.44" fill="#ffffff" opacity="0.75"/>
<rect x="380.92" y="340.71" width="11.13" height="5.89" fill="#ffffff" opacity="0.75"/>
<rect x="399.59" y="328.70" width="11.13" height="17.90" fill="#ffffff" opacity="0.75"/>
<rect x="408.92" y="273.57" width="11.13" height="73.03" fill="#ffffff" opacity="0.75"/>
<rect x="418.25" y="333.19" width="11.13" height="13.41" fill="#ffffff" opacity="0.75"/>
<rect x="427.58" y="326.47" width="11.13" height="20.13" fill="#ffffff" opacity="0.75"/>
<rect x="446.25" y="328.65" width="11.13" height="17.95" fill="#ffffff" opacity="0.75"/>
<rect x="455.58" y="250.51" width="11.13" height="96.09" fill="#ffffff" opacity="0.75"/>
<rect x="464.91" y="332.17" width="11.13" height="14.43" fill="#ffffff" opacity="0.75"/>
<rect x="474.24" y="324.48" width="11.13" height="22.12" fill="#ffffff" opacity="0.75"/>
<rect x="492.91" y="344.26" width="11.13" height="2.34" fill="#ffffff" opacity="0.75"/>
<rect x="502.24" y="332.68" width="11.13" height="13.92" fill="#ffffff" opacity="0.75"/>
<rect x="511.57" y="344.64" width="11.13" height="1.96" fill="#ffffff" opacity="0.75"/>
<rect x="520.90" y="343.71" width="11.13" height="2.89" fill="#ffffff" opacity="0.75"/>
<rect x="307.17" y="344.71" width="9.33" height="1.89" fill="#4472C4" stroke="#2F528F" stroke-width="0.75"/>
<rect x="316.50" y="333.58" width="9.33" height="13.02" fill="#ED7D31" stroke="#AE5A21" stroke-width="0.75"/>
<rect x="325.83" y="345.31" width="9.33" height="1.29" fill="#A5A5A5" stroke="#787878" stroke-width="0.75"/>
<rect x="335.16" y="343.81" width="9.33" height="2.79" fill="#FFC000" stroke="#BC8C00" stroke-width="0.75"/>
<rect x="353.83" y="342.42" width="9.33" height="4.18" fill="#4472C4" stroke="#2F528F" stroke-width="0.75"/>
<rect x="363.16" y="328.02" width="9.33" height="18.58" fill="#ED7D31" stroke="#AE5A21" stroke-width="0.75"/>
<rect x="372.49" y="343.06" width="9.33" height="3.54" fill="#A5A5A5" stroke="#787878" stroke-width="0.75"/>
<rect x="381.82" y="341.61" width="9.33" height="4.99" fill="#FFC000" stroke="#BC8C00" stroke-width="0.75"/>
<rect x="400.49" y="329.60" width="9.33" height="17.00" fill="#4472C4" stroke="#2F528F" stroke-width="0.75"/>
<rect x="409.82" y="274.47" width="9.33" height="72.13" fill="#ED7D31" stroke="#AE5A21" stroke-width="0.75"/>
<rect x="419.15" y="334.09" width="9.33" height="12.51" fill="#A5A5A5" stroke="#787878" stroke-width="0.75"/>
<rect x="428.48" y="327.37" width="9.33" height="19.23" fill="#FFC000" stroke="#BC8C00" stroke-width="0.75"/>
<rect x="447.15" y="329.55" width="9.33" height="17.05" fill="#4472C4" stroke="#2F528F" stroke-width="0.75"/>
<rect x="456.48" y="251.41" width="9.33" height="95.19" fill="#ED7D31" stroke="#AE5A21" stroke-width="0.75"/>
<rect x="465.81" y="333.07" width="9.33" height="13.53" fill="#A5A5A5" stroke="#787878" stroke-width="0.75"/>
<rect x="475.14" y="325.38" width="9.33" height="21.22" fill="#FFC000" stroke="#BC8C00" stroke-width="0.75"/>
<rect x="493.81" y="345.16" width="9.33" height="1.44" fill="#4472C4" stroke="#2F528F" stroke-width="0.75"/>
<rect x="503.14" y="333.58" width="9.33" height="13.02" fill="#ED7D31" stroke="#AE5A21" stroke-width="0.75"/>
<rect x="512.47" y="345.54" width="9.33" height="1.06" fill="#A5A5A5" stroke="#787878" stroke-width="0.75"/>
<rect x="521.80" y="344.61" width="9.33" height="1.99" fill="#FFC000" stroke="#BC8C00" stroke-width="0.75"/>
<rect x="302.50" y="250.00" width="233.30" height="96.60" fill="none" stroke="#9a9a9a" stroke-width="0.9"/>
<text x="298.00" y="348.90" font-size="5.38" text-anchor="end" fill="#262626">0</text>
<text x="298.00" y="331.34" font-size="5.38" text-anchor="end" fill="#262626">20</text>
<text x="298.00" y="313.77" font-size="5.38" text-anchor="end" fill="#262626">40</text>
<text x="298.00" y="296.21" font-size="5.38" text-anchor="end" fill="#262626">60</text>
<text x="298.00" y="278.65" font-size="5.38" text-anchor="end" fill="#262626">80</text>
<text x="298.00" y="261.08" font-size="5.38" text-anchor="end" fill="#262626">100</text>
<text x="325.83" y="354.70" font-size="5.38" text-anchor="middle" fill="#262626">Simulated</text>
<text x="372.49" y="354.70" font-size="5.38" text-anchor="middle" fill="#262626"># 1</text>
<text x="419.15" y="354.70" font-size="5.38" text-anchor="middle" fill="#262626"># 2</text>
<text x="465.81" y="354.70" font-size="5.38" text-anchor="middle" fill="#262626"># 3</text>
<text x="512.47" y="354.70" font-size="5.38" text-anchor="middle" fill="#262626"># 4</text>
<text x="419.15" y="360.30" font-size="5.38" text-anchor="middle" fill="#262626">Dataset</text>
<text transform="translate(287.20,298.30) rotate(-90)" font-size="5.50" text-anchor="middle" fill="#262626">Computation time (sec.)</text>
<text transform="translate(314.14,342.20) rotate(-90)" font-size="5.4" fill="#262626">2.15</text>
<text transform="translate(323.24,330.60) rotate(-90)" font-size="5.4" fill="#262626">14.83</text>
<text transform="translate(333.24,342.80) rotate(-90)" font-size="5.4" fill="#262626">1.47</text>
<text transform="translate(342.14,341.60) rotate(-90)" font-size="5.4" fill="#262626">3.18</text>
<text transform="translate(360.44,340.40) rotate(-90)" font-size="5.4" fill="#262626">4.76</text>
<text transform="translate(370.14,343.60) rotate(-90)" font-size="5.4" fill="#262626">21.16</text>
<text transform="translate(378.54,340.90) rotate(-90)" font-size="5.4" fill="#262626">4.03</text>
<text transform="translate(388.04,339.10) rotate(-90)" font-size="5.4" fill="#262626">5.68</text>
<text transform="translate(407.14,327.10) rotate(-90)" font-size="5.4" fill="#262626">19.36</text>
<text transform="translate(416.14,272.50) rotate(-90)" font-size="5.4" fill="#262626">82.14</text>
<text transform="translate(425.74,331.20) rotate(-90)" font-size="5.4" fill="#262626">14.25</text>
<text transform="translate(434.84,325.10) rotate(-90)" font-size="5.4" fill="#262626">21.9</text>
<text transform="translate(454.14,326.40) rotate(-90)" font-size="5.4" fill="#262626">19.41</text>
<text transform="translate(462.94,269.70) rotate(-90)" font-size="5.4" fill="#262626">108.39</text>
<text transform="translate(472.14,330.50) rotate(-90)" font-size="5.4" fill="#262626">15.41</text>
<text transform="translate(481.84,323.00) rotate(-90)" font-size="5.4" fill="#262626">24.16</text>
<text transform="translate(500.24,342.50) rotate(-90)" font-size="5.4" fill="#262626">1.64</text>
<text transform="translate(509.44,330.60) rotate(-90)" font-size="5.4" fill="#262626">14.83</text>
<text transform="translate(518.64,342.50) rotate(-90)" font-size="5.4" fill="#262626">1.21</text>
<text transform="translate(527.94,342.00) rotate(-90)" font-size="5.4" fill="#262626">2.27</text>
<rect x="303.10" y="252.50" width="85.30" height="27.70" fill="#ffffff" stroke="#9a9a9a" stroke-width="0.7"/>
<rect x="307.40" y="254.85" width="2.5" height="2.5" fill="#4472C4" stroke="#2F528F" stroke-width="0.4"/>
<text x="311.70" y="258.00" font-size="5.38" fill="#262626">CVA instead of CSI</text>
<rect x="307.40" y="261.55" width="2.5" height="2.5" fill="#ED7D31" stroke="#AE5A21" stroke-width="0.4"/>
<text x="311.70" y="264.70" font-size="5.38" fill="#262626">Without Downsampling</text>
<rect x="307.40" y="268.25" width="2.5" height="2.5" fill="#A5A5A5" stroke="#787878" stroke-width="0.4"/>
<text x="311.70" y="271.40" font-size="5.38" fill="#262626">Without Hypothesis-test-based</text>
<rect x="307.40" y="274.75" width="2.5" height="2.5" fill="#FFC000" stroke="#BC8C00" stroke-width="0.4"/>
<text x="311.70" y="277.90" font-size="5.38" fill="#262626">Proposed Method</text>
<text x="281.00" y="358.90" class="tag" font-size="10.3" fill="#2a2a2a">(f)</text>
</svg>
</body></html>
